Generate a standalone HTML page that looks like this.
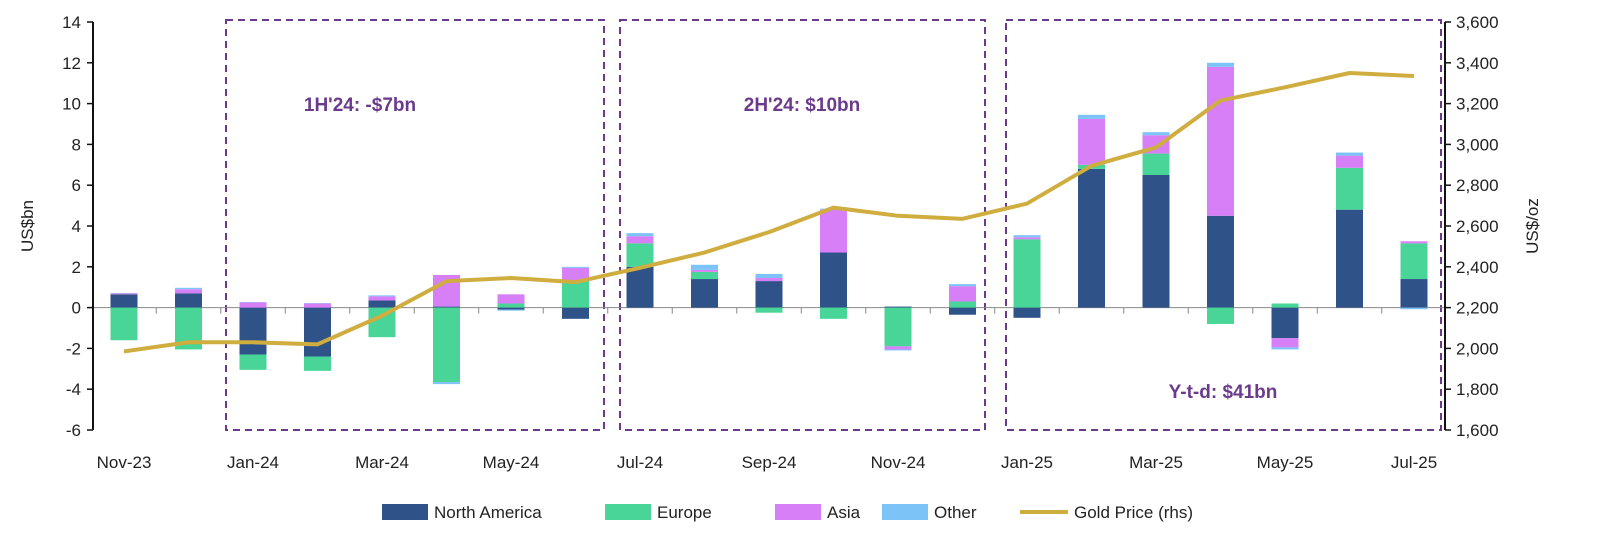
<!DOCTYPE html>
<html><head><meta charset="utf-8"><style>
body{margin:0;background:#fff;font-family:"Liberation Sans",sans-serif;}
svg text{font-family:"Liberation Sans",sans-serif;fill:#222;}
</style></head><body>
<svg id="c" width="1601" height="546"></svg>
<script>
const months=["Nov-23","Dec-23","Jan-24","Feb-24","Mar-24","Apr-24","May-24","Jun-24","Jul-24","Aug-24","Sep-24","Oct-24","Nov-24","Dec-24","Jan-25","Feb-25","Mar-25","Apr-25","May-25","Jun-25","Jul-25"];
const northAmerica=[0.65,0.7,-2.3,-2.4,0.35,0.05,-0.1,-0.55,2.0,1.4,1.3,2.7,0.05,-0.35,-0.5,6.8,6.5,4.5,-1.5,4.8,1.4];
const europe=[-1.6,-2.05,-0.75,-0.7,-1.45,-3.65,0.2,1.35,1.15,0.35,-0.25,-0.55,-1.9,0.3,3.35,0.2,1.05,-0.8,0.2,2.05,1.75];
const asia=[0.05,0.2,0.25,0.2,0.2,1.55,0.45,0.6,0.35,0.1,0.15,2.1,-0.15,0.75,0.1,2.25,0.9,7.3,-0.45,0.6,0.1];
const other=[0.02,0.07,0.02,0.02,0.05,-0.1,-0.05,0.05,0.15,0.25,0.2,0.05,-0.05,0.1,0.1,0.2,0.15,0.2,-0.1,0.15,-0.08];
const goldPrice=[1985,2030,2030,2020,2160,2330,2345,2325,2395,2470,2570,2690,2650,2635,2710,2895,2985,3215,3280,3350,3335];
const leftTicks=[-6,-4,-2,0,2,4,6,8,10,12,14];
const rightTicks=[1600,1800,2000,2200,2400,2600,2800,3000,3200,3400,3600];
const xLabelIdx=[0,2,4,6,8,10,12,14,16,18,20];
const seriesNames=["North America","Europe","Asia","Other"];
const colors=["#2f5288","#48d597","#d77ff7","#7cc3f7"];

const svg=document.getElementById('c');
const NS="http://www.w3.org/2000/svg";
function el(t,a,p){const e=document.createElementNS(NS,t);for(const k in a)e.setAttribute(k,a[k]);(p||svg).appendChild(e);return e;}
const L=93,R=1445,T=22,B=430;
const y=v=>B-(v+6)/20*(B-T);
const y2=v=>B-(v-1600)/2000*(B-T);
const x=i=>124+i*64.5;
const bw=27;

const boxes=[[226,604,"1H'24: -$7bn",360,105],[620,985,"2H'24: $10bn",802,105],[1006,1441,"Y-t-d: $41bn",1223,392]];
boxes.forEach((b,i)=>{
 const r=el('rect',{x:b[0],y:20,width:b[1]-b[0],height:410,fill:'none',stroke:'#6b3a8c','stroke-width':2,'stroke-dasharray':'7,5'});
 
 
 const t=el('text',{x:b[3],y:b[4]+6,'text-anchor':'middle','font-size':19,'font-weight':'bold',style:'fill:#6b3a8c'});
 t.textContent=b[2];
 
 
});

const zl=el('line',{x1:L,y1:y(0),x2:R,y2:y(0),stroke:'#888','stroke-width':1});

months.forEach((m,i)=>{if(i>0)el('line',{x1:x(i)-32.25,y1:y(0),x2:x(i)-32.25,y2:y(0)+6,stroke:'#888'});});
leftTicks.forEach(v=>{
 el('line',{x1:L-6,y1:y(v),x2:L,y2:y(v),stroke:'#111','stroke-width':1.5});
 const t=el('text',{x:L-12,y:y(v)+6,'text-anchor':'end','font-size':17});t.textContent=v;
 
});
rightTicks.forEach(v=>{
 el('line',{x1:R,y1:y2(v),x2:R+6,y2:y2(v),stroke:'#111','stroke-width':1.5});
 const t=el('text',{x:R+11,y:y2(v)+6,'font-size':17});t.textContent=v.toLocaleString('en-US');
 
});
const ax=el('line',{x1:L,y1:T,x2:L,y2:B,stroke:'#111','stroke-width':2});

const ax2=el('line',{x1:R,y1:T,x2:R,y2:B,stroke:'#111','stroke-width':2});

xLabelIdx.forEach(i=>{
 const t=el('text',{x:x(i),y:468,'text-anchor':'middle','font-size':17});t.textContent=months[i];
 
});
let t1=el('text',{x:0,y:0,'text-anchor':'middle','font-size':17,transform:`translate(33,${(T+B)/2}) rotate(-90)`});t1.textContent='US$bn';

let t2=el('text',{x:0,y:0,'text-anchor':'middle','font-size':17,transform:`translate(1538,${(T+B)/2}) rotate(-90)`});t2.textContent='US$/oz';


const series=[northAmerica,europe,asia,other];
months.forEach((m,i)=>{
 let pos=0,neg=0;
 series.forEach((s,k)=>{
  const v=s[i];let a,b;
  if(v>=0){a=pos;b=pos+v;pos=b;}else{a=neg;b=neg+v;neg=b;}
  const r=el('rect',{x:x(i)-bw/2,y:Math.min(y(a),y(b)),width:bw,height:Math.abs(y(a)-y(b)),fill:colors[k]});
  
  
 });
});

const pl=el('polyline',{points:goldPrice.map((v,i)=>x(i)+','+y2(v)).join(' '),fill:'none',stroke:'#cfad3f','stroke-width':4,'stroke-linejoin':'round'});


const lg=el('g',{});

const lx=[382,605,775,882];
seriesNames.forEach((n,k)=>{
 const g=el('g',{},lg);
 
 el('rect',{x:lx[k],y:504,width:46,height:16,fill:colors[k]},g);
 const t=el('text',{x:lx[k]+52,y:518,'font-size':17},g);t.textContent=n;
});
const g=el('g',{},lg);

el('line',{x1:1020,y1:512,x2:1068,y2:512,stroke:'#cfad3f','stroke-width':4},g);
const tg=el('text',{x:1074,y:518,'font-size':17},g);tg.textContent='Gold Price (rhs)';
</script>
</body></html>
